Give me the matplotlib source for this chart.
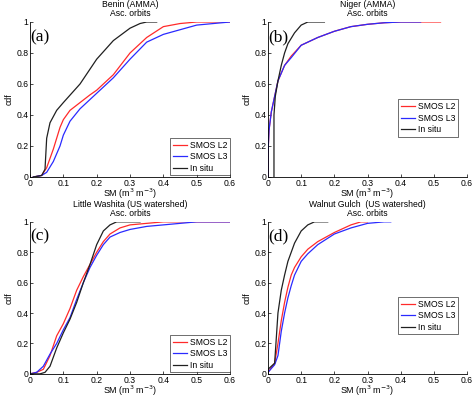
import numpy as np
import matplotlib
matplotlib.use('Agg')
import matplotlib.pyplot as plt

# CDF curves: SM values (m3 m-3) and cdf levels
benin_l2_sm = [0.01, 0.035, 0.05, 0.07, 0.09, 0.10, 0.12, 0.15, 0.18, 0.20, 0.25, 0.30, 0.35, 0.40, 0.45, 0.50, 0.60]
benin_l2_cdf = [0.0, 0.01, 0.06, 0.18, 0.32, 0.37, 0.43, 0.48, 0.53, 0.56, 0.66, 0.80, 0.90, 0.97, 0.99, 1.0, 1.0]
benin_l3_sm = [0.01, 0.035, 0.05, 0.07, 0.09, 0.10, 0.12, 0.15, 0.18, 0.20, 0.25, 0.30, 0.35, 0.40, 0.45, 0.50, 0.55, 0.60]
benin_l3_cdf = [0.0, 0.01, 0.03, 0.10, 0.20, 0.27, 0.36, 0.44, 0.50, 0.54, 0.64, 0.76, 0.87, 0.92, 0.95, 0.98, 0.99, 1.0]
benin_is_sm = [0.01, 0.035, 0.045, 0.05, 0.06, 0.08, 0.10, 0.15, 0.20, 0.25, 0.30, 0.33, 0.35, 0.38]
benin_is_cdf = [0.0, 0.01, 0.05, 0.25, 0.35, 0.43, 0.48, 0.60, 0.76, 0.88, 0.96, 0.99, 1.0, 1.0]

niger_l2_sm = [0.0, 0.0, 0.003, 0.01, 0.02, 0.03, 0.05, 0.07, 0.10, 0.15, 0.20, 0.25, 0.30, 0.35, 0.40, 0.52]
niger_l2_cdf = [0.0, 0.15, 0.30, 0.42, 0.52, 0.62, 0.72, 0.78, 0.85, 0.90, 0.94, 0.97, 0.985, 0.995, 1.0, 1.0]
niger_l3_sm = [0.0, 0.0, 0.003, 0.01, 0.02, 0.03, 0.05, 0.07, 0.10, 0.15, 0.20, 0.25, 0.30, 0.35, 0.40, 0.46]
niger_l3_cdf = [0.0, 0.15, 0.30, 0.42, 0.52, 0.62, 0.72, 0.77, 0.85, 0.90, 0.94, 0.97, 0.985, 0.995, 1.0, 1.0]
niger_is_sm = [0.018, 0.018, 0.022, 0.03, 0.04, 0.05, 0.06, 0.08, 0.10, 0.12, 0.17]
niger_is_cdf = [0.0, 0.40, 0.52, 0.62, 0.72, 0.80, 0.86, 0.93, 0.98, 1.0, 1.0]

washita_l2_sm = [0.0, 0.02, 0.04, 0.06, 0.08, 0.10, 0.12, 0.14, 0.16, 0.18, 0.20, 0.22, 0.24, 0.27, 0.30, 0.35, 0.40, 0.60]
washita_l2_cdf = [0.0, 0.01, 0.03, 0.12, 0.25, 0.33, 0.43, 0.55, 0.64, 0.72, 0.80, 0.87, 0.92, 0.96, 0.98, 0.99, 1.0, 1.0]
washita_l3_sm = [0.0, 0.02, 0.04, 0.06, 0.08, 0.10, 0.12, 0.14, 0.16, 0.18, 0.20, 0.22, 0.24, 0.27, 0.30, 0.35, 0.40, 0.45, 0.50, 0.60]
washita_l3_cdf = [0.0, 0.01, 0.05, 0.13, 0.20, 0.29, 0.37, 0.49, 0.60, 0.70, 0.78, 0.85, 0.90, 0.93, 0.95, 0.97, 0.98, 0.99, 1.0, 1.0]
washita_is_sm = [0.0, 0.03, 0.045, 0.06, 0.08, 0.10, 0.12, 0.14, 0.16, 0.18, 0.20, 0.22, 0.24, 0.26, 0.33]
washita_is_cdf = [0.0, 0.0, 0.01, 0.05, 0.17, 0.27, 0.36, 0.47, 0.60, 0.72, 0.85, 0.94, 0.98, 1.0, 1.0]

walnut_l2_sm = [0.0, 0.02, 0.03, 0.04, 0.05, 0.06, 0.07, 0.08, 0.10, 0.12, 0.15, 0.20, 0.25, 0.28, 0.30]
walnut_l2_cdf = [0.01, 0.07, 0.20, 0.35, 0.47, 0.57, 0.65, 0.70, 0.77, 0.82, 0.87, 0.93, 0.98, 1.0, 1.0]
walnut_l3_sm = [0.0, 0.02, 0.03, 0.04, 0.05, 0.06, 0.07, 0.08, 0.10, 0.12, 0.15, 0.20, 0.25, 0.30, 0.35, 0.37]
walnut_l3_cdf = [0.01, 0.06, 0.12, 0.28, 0.40, 0.50, 0.58, 0.65, 0.74, 0.79, 0.85, 0.92, 0.96, 0.99, 1.0, 1.0]
walnut_is_sm = [0.0, 0.0, 0.02, 0.03, 0.04, 0.05, 0.06, 0.08, 0.10, 0.12, 0.14, 0.18]
walnut_is_cdf = [0.0, 0.03, 0.07, 0.40, 0.55, 0.65, 0.74, 0.86, 0.94, 0.98, 1.0, 1.0]

panels = [
    ('(a)', 'Benin (AMMA)\nAsc. orbits', benin_l2_sm, benin_l2_cdf, benin_l3_sm, benin_l3_cdf, benin_is_sm, benin_is_cdf),
    ('(b)', 'Niger (AMMA)\nAsc. orbits', niger_l2_sm, niger_l2_cdf, niger_l3_sm, niger_l3_cdf, niger_is_sm, niger_is_cdf),
    ('(c)', 'Little Washita (US watershed)\nAsc. orbits', washita_l2_sm, washita_l2_cdf, washita_l3_sm, washita_l3_cdf, washita_is_sm, washita_is_cdf),
    ('(d)', 'Walnut Gulch  (US watershed)\nAsc. orbits', walnut_l2_sm, walnut_l2_cdf, walnut_l3_sm, walnut_l3_cdf, walnut_is_sm, walnut_is_cdf),
]
xticks = [0, 0.1, 0.2, 0.3, 0.4, 0.5, 0.6]
xticklabels = ['0', '0.1', '0.2', '0.3', '0.4', '0.5', '0.6']
yticks = [0, 0.2, 0.4, 0.6, 0.8, 1]
yticklabels = ['0', '0.2', '0.4', '0.6', '0.8', '1']

plt.rcParams['font.family'] = ['Liberation Sans', 'DejaVu Sans']
fig = plt.figure(figsize=(4.74, 3.99), dpi=100)

boxes = [
    [0.0633, 0.5564, 0.422, 0.3885],
    [0.5654, 0.5564, 0.420, 0.3885],
    [0.0633, 0.0630, 0.422, 0.3810],
    [0.5654, 0.0630, 0.420, 0.3810],
]
legend_pos = [(1.0, 0.01), (0.955, 0.26), (1.0, 0.01), (0.955, 0.26)]

for i, (tag, title, l2x, l2y, l3x, l3y, isx, isy) in enumerate(panels):
    ax = fig.add_axes(boxes[i])
    ax.plot(l2x, l2y, color='#ff2a2a', lw=0.9, label='SMOS L2')
    ax.plot(l3x, l3y, color='#2a2aff', lw=0.9, label='SMOS L3')
    ax.plot(isx, isy, color='#202020', lw=0.9, label='In situ')
    ax.set_xlim(0, 0.6)
    ax.set_ylim(0, 1)
    ax.set_xticks(xticks)
    ax.set_xticklabels(xticklabels)
    ax.set_yticks(yticks)
    ax.set_yticklabels(yticklabels)
    ax.tick_params(direction='in', length=2, width=0.5, labelsize=6.2, pad=1.2)
    for s in ['top', 'right']:
        ax.spines[s].set_visible(False)
    for s in ['left', 'bottom']:
        ax.spines[s].set_linewidth(0.6)
    ax.set_title(title, fontsize=6.2, pad=4, linespacing=1.0)
    ax.set_xlabel('SM (m$^3$ m$^{-3}$)', fontsize=6.4, labelpad=-1.0)
    ax.set_ylabel('cdf', fontsize=6.2, labelpad=2)
    ax.text(0.0, 0.955, tag, transform=ax.transAxes, fontsize=12.5,
            family='Liberation Serif', va='top', ha='left')
    leg = ax.legend(loc='lower right', bbox_to_anchor=legend_pos[i], fontsize=6.2,
                    frameon=True, fancybox=False, handlelength=1.6,
                    handletextpad=0.4, borderpad=0.3, labelspacing=0.3,
                    borderaxespad=0.0)
    leg.get_frame().set_edgecolor('black')
    leg.get_frame().set_linewidth(0.5)

plt.savefig('out.png', dpi=100)
plt.close()
